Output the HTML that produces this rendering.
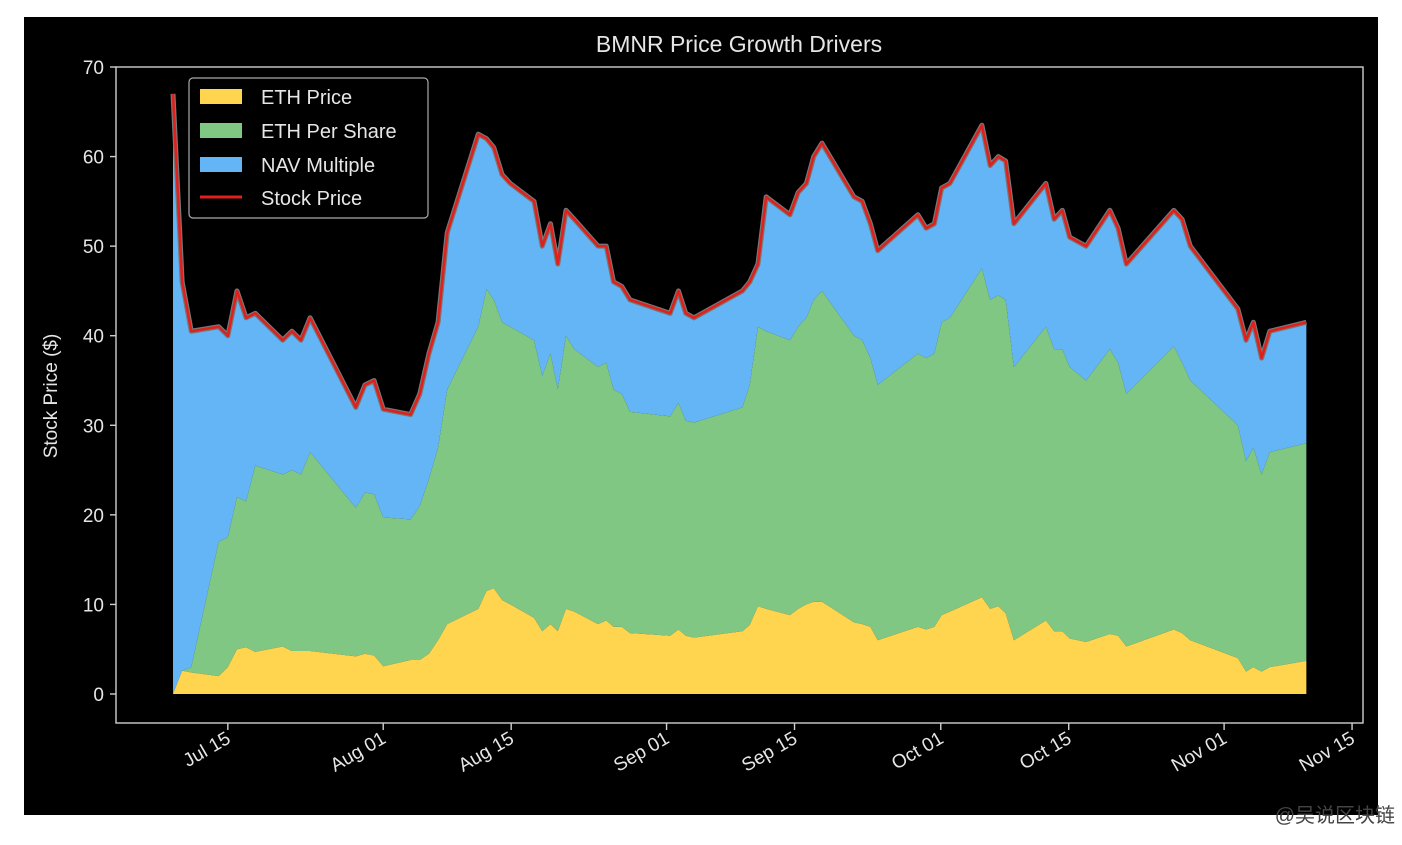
<!DOCTYPE html>
<html><head><meta charset="utf-8"><title>BMNR Price Growth Drivers</title>
<style>
html,body{margin:0;padding:0;background:#fff;width:1402px;height:840px;overflow:hidden;}
#wrap{position:absolute;left:0;top:0;width:1402px;height:840px;}
svg text{font-family:"Liberation Sans","DejaVu Sans",sans-serif;}
</style></head>
<body>
<div id="wrap">
<svg id="chart" width="1402" height="840" xmlns="http://www.w3.org/2000/svg">
  <rect x="24" y="17" width="1354" height="798" fill="#000"/>
  <text x="739" y="52" text-anchor="middle" font-size="23" fill="#e6e6e6">BMNR Price Growth Drivers</text>
  <text transform="translate(57,396) rotate(-90)" text-anchor="middle" font-size="19" fill="#e6e6e6">Stock Price ($)</text>
  <g id="areas"></g>
  <g id="axes"></g>
  <g>
    <rect x="189" y="78" width="239" height="140" rx="4" fill="#000" stroke="#aaa" stroke-width="1.2"/>
    <rect x="200" y="89" width="42" height="15" fill="#ffd54f"/>
    <text x="261" y="104" font-size="20" fill="#e6e6e6">ETH Price</text>
    <rect x="200" y="123" width="42" height="15" fill="#81c784"/>
    <text x="261" y="138" font-size="20" fill="#e6e6e6">ETH Per Share</text>
    <rect x="200" y="157" width="42" height="15" fill="#64b5f6"/>
    <text x="261" y="172" font-size="20" fill="#e6e6e6">NAV Multiple</text>
    <line x1="200" y1="197" x2="242" y2="197" stroke="#e0201c" stroke-width="3"/>
    <text x="261" y="205" font-size="20" fill="#e6e6e6">Stock Price</text>
  </g>
  <text x="1395" y="822" text-anchor="end" font-size="20" fill="#444" font-family="'Liberation Sans','Noto Sans CJK SC',sans-serif">@吴说区块链</text>
</svg>
</div>
<script>
// days since Jul 09
const days = [0,1,2,5,6,7,8,9,12,13,14,15,20,21,22,23,26,27,28,29,30,33.4,34.3,35.1,36,36.9,39.5,40.4,41.3,42.1,43,43.9,46.5,47.4,48.2,49.1,50,54.4,55.3,56.1,57,62.3,63.1,64,64.9,67.5,68.4,69.3,70.1,71,74.5,75.4,76.3,77.1,81.5,82.4,83.3,84.1,85,88.5,89.4,90.3,91.1,92,95.5,96.4,97.3,98.1,99.9,102.5,103.4,104.3,109.5,110.4,111.3,116.5,117.4,118.2,119.1,120,124];
const stockPrice = [67,46,40.5,41,40,45,42,42.5,39.5,40.5,39.5,42,32,34.5,35,31.8,31.2,33.5,38,41.5,51.5,62.5,62,61,58,57,55,50,52.5,48,54,53,50,50,46,45.5,44,42.5,45,42.5,42,45,46,48,55.5,53.5,56,57,60,61.5,55.5,55,52.5,49.5,53.5,52,52.5,56.5,57,63.5,59,60,59.5,52.5,57,53,54,51,50,54,52,48,54,53,50,43,39.5,41.5,37.5,40.5,41.5];
const ethPerShareTop = [0,2.6,3,17,17.5,22,21.5,25.5,24.5,25,24.5,27,20.8,22.5,22.3,19.7,19.5,21,24,27.5,34,41,45.2,44,41.5,41,39.5,35.5,38,34,40,38.5,36.5,37,34,33.5,31.5,31,32.5,30.5,30.3,32,34.5,41,40.5,39.5,41,42,44,45,40,39.5,37.5,34.5,38,37.5,38,41.5,42,47.5,44,44.5,44,36.5,41,38.5,38.5,36.5,35,38.5,37,33.5,38.8,37,35,30,26,27.5,24.5,27,28];
const ethPriceTop = [0,2.6,2.4,2,3,5,5.2,4.7,5.3,4.8,4.8,4.8,4.2,4.5,4.3,3.1,3.8,3.8,4.5,6,7.8,9.5,11.5,11.8,10.5,10,8.5,7,7.8,7,9.5,9.2,7.8,8.2,7.5,7.5,6.8,6.5,7.2,6.5,6.3,7,7.7,9.8,9.5,8.8,9.5,10,10.3,10.3,8,7.8,7.5,6,7.5,7.2,7.5,8.8,9.2,10.8,9.5,9.8,9,6,8.2,7,7,6.2,5.8,6.7,6.5,5.3,7.2,6.8,6,4,2.5,3,2.5,3,3.7];
const yTicks = [0,10,20,30,40,50,60,70];
const xTickDays = [6,23,37,54,68,84,98,115,129];
const xTickLabels = ["Jul 15","Aug 01","Aug 15","Sep 01","Sep 15","Oct 01","Oct 15","Nov 01","Nov 15"];

const NS="http://www.w3.org/2000/svg";
const X0=173, PXD=9.14, Y0=694, PXU=(694-67)/70;
function xs(d){return X0+d*PXD;}
function ys(v){return Y0-v*PXU;}
function mk(tag,attrs,parent){const e=document.createElementNS(NS,tag);for(const k in attrs)e.setAttribute(k,attrs[k]);parent.appendChild(e);return e;}
const areas=document.getElementById('areas'), axes=document.getElementById('axes');

function band(lo,hi,fill,name){
  let d="M"+xs(days[0])+","+ys(hi[0]);
  for(let i=1;i<days.length;i++) d+="L"+xs(days[i])+","+ys(hi[i]);
  for(let i=days.length-1;i>=0;i--) d+="L"+xs(days[i])+","+ys(lo?lo[i]:0);
  const p=mk('path',{d:d+"Z",fill:fill},areas);
  
  
}
band(ethPerShareTop,stockPrice,"#64b5f6","nav-multiple-area");
band(ethPriceTop,ethPerShareTop,"#81c784","eth-per-share-area");
band(null,ethPriceTop,"#ffd54f","eth-price-area");

let ld="";
for(let i=0;i<days.length;i++) ld+=(i?"L":"M")+xs(days[i])+","+ys(stockPrice[i]);
const outline=mk('path',{d:ld,fill:"none",stroke:"#777","stroke-width":5,"stroke-linejoin":"round"},areas);


const line=mk('path',{d:ld,fill:"none",stroke:"#e0201c","stroke-width":2.6,"stroke-linejoin":"round"},areas);



const frame=mk('rect',{x:116,y:67,width:1247,height:656,fill:"none",stroke:"#cfcfcf","stroke-width":1.4},axes);



yTicks.forEach(v=>{
  const y=ys(v);
  const t=mk('line',{x1:110,x2:116,y1:y,y2:y,stroke:"#cfcfcf","stroke-width":1.4},axes);
  
  
  const l=mk('text',{x:104,y:y+7,"text-anchor":"end","font-size":19,fill:"#e6e6e6"},axes);
  l.textContent=v;
  
  
});
xTickDays.forEach((d,i)=>{
  const x=xs(d);
  const t=mk('line',{x1:x,x2:x,y1:723,y2:730,stroke:"#cfcfcf","stroke-width":1.4},axes);
  
  
  const l=mk('text',{transform:"translate("+(x+4)+",742) rotate(-30)","text-anchor":"end","font-size":19,fill:"#e6e6e6"},axes);
  l.textContent=xTickLabels[i];
  
  
});
</script>
</body></html>
